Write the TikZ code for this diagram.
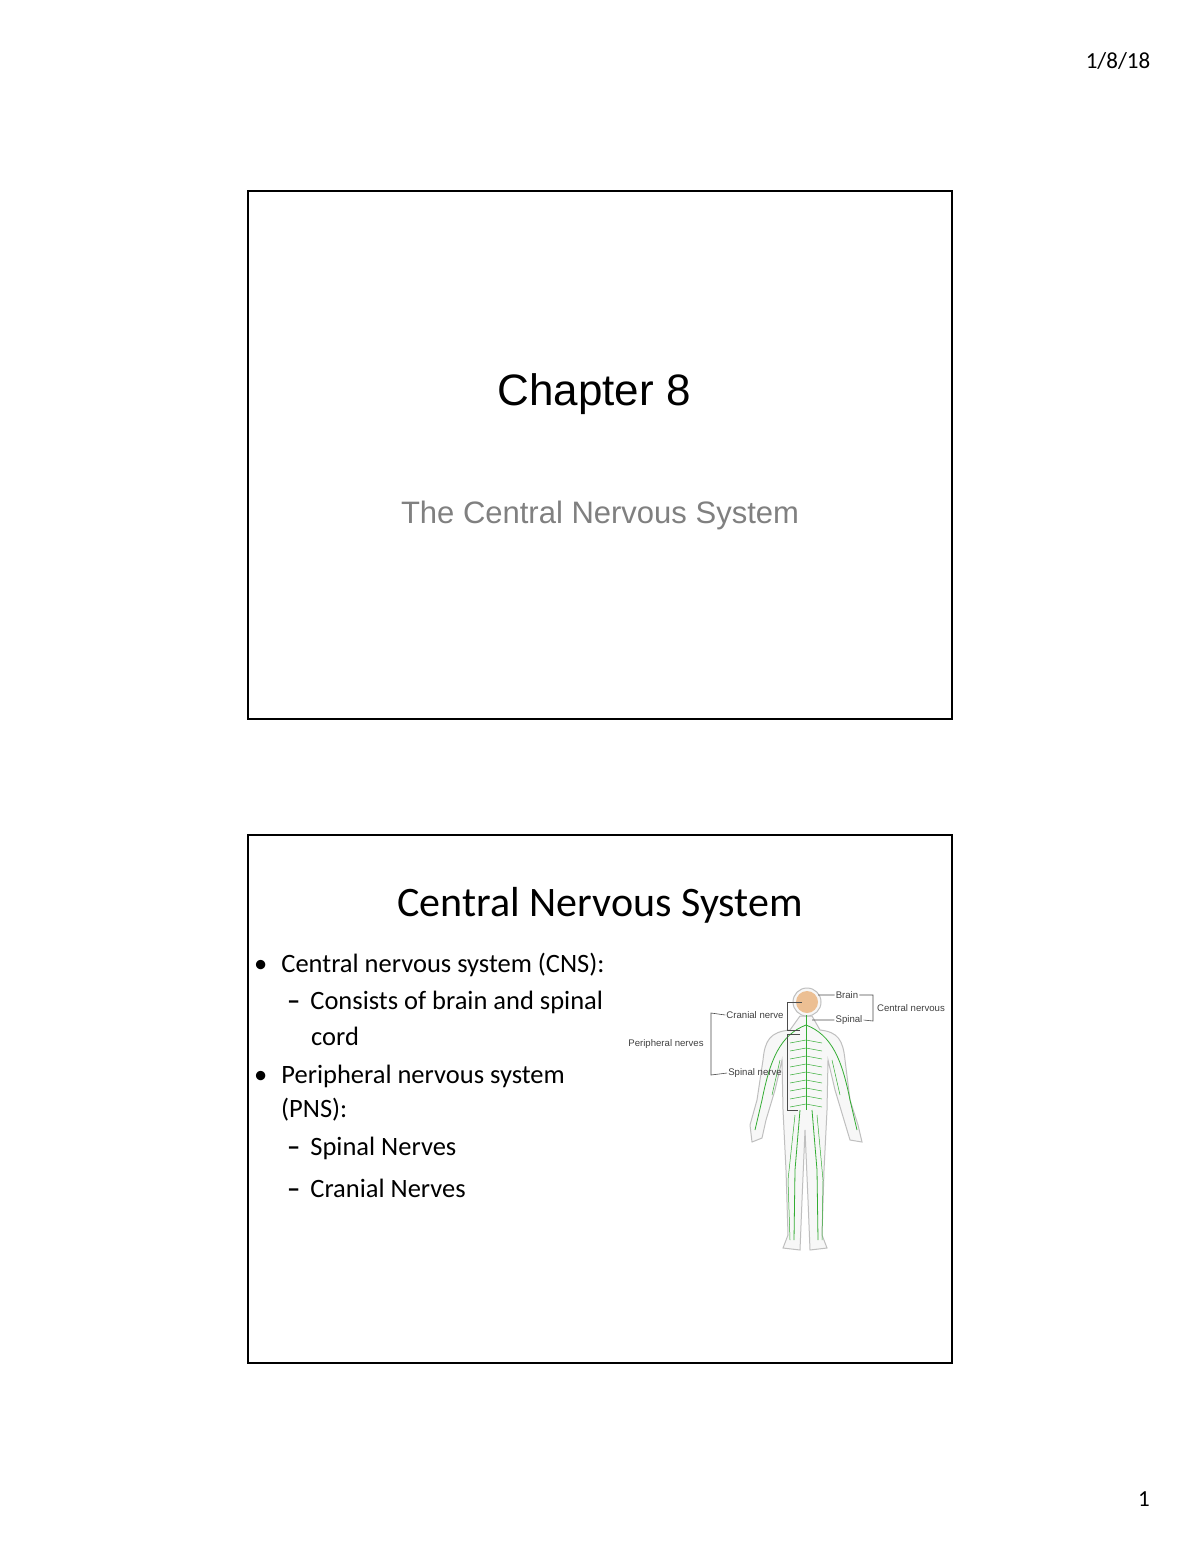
\documentclass[tikz,border=0pt]{standalone}
\usepackage{fontspec}
\setmainfont{Carlito}
\newfontfamily\arial{Liberation Sans}
\begin{document}
\begin{tikzpicture}[x=1pt,y=-1pt,
  slide/.style={draw=black,line width=1.6pt},
  lbl/.style={font=\arial\fontsize{9.6}{11}\selectfont,inner sep=1pt,text=black!75},
  brk/.style={draw=black!70,line width=0.6pt},
  nerve/.style={draw=green!60!black!80,line width=0.8pt},
  skin/.style={draw=black!25,line width=1pt,fill=black!3},
  bul/.style={font=\fontsize{26.5}{30}\selectfont,anchor=west,inner sep=0pt}]
\useasboundingbox (0,0) rectangle (1200,1554);
\fill[white] (0,0) rectangle (1200,1554);
\node[font=\fontsize{23}{26}\selectfont] (date) at (1118,61) {1/8/18};
\node[font=\fontsize{23}{26}\selectfont] (pg) at (1144,1499) {1};
% slide 1
\draw[slide] (248,191) rectangle (952,719);
\node[font=\arial\fontsize{44}{50}\selectfont] (ch) at (594,394) {Chapter 8};
\node[font=\arial\fontsize{31}{36}\selectfont,text=black!50] (sub) at (600,515) {The Central Nervous System};
% slide 2
\draw[slide] (248,835) rectangle (952,1363);
\node[font=\fontsize{42}{48}\selectfont] (t2) at (600,905) {Central Nervous System};
\node[bul] (b1) at (254,965) {\textbullet\hspace{14pt}Central nervous system (CNS):};
\node[bul] (b2) at (287,1002) {\textbf{--}\hspace{10pt}Consists of brain and spinal};
\node[bul] (b3) at (311,1036) {cord};
\node[bul] (b4) at (254,1076) {\textbullet\hspace{14pt}Peripheral nervous system};
\node[bul] (b5) at (281,1110) {(PNS):};
\node[bul] (b6) at (287,1148) {\textbf{--}\hspace{10pt}Spinal Nerves};
\node[bul] (b7) at (287,1188) {\textbf{--}\hspace{10pt}Cranial Nerves};
% body
\draw[skin] (800,1016) -- (790,1030) .. controls (770,1032) and (765,1040) .. (763,1060)
 -- (757,1100) -- (750,1125) -- (752,1142) -- (762,1138) -- (766,1120) -- (775,1090) -- (782,1060)
 -- (783,1110) -- (786,1170) -- (788,1235) -- (783,1248) -- (800,1250) -- (802,1200) -- (805,1130)
 -- (808,1200) -- (810,1250) -- (827,1248) -- (822,1235) -- (824,1170) -- (827,1110) -- (828,1060)
 -- (835,1090) -- (844,1120) -- (850,1140) -- (862,1142) -- (858,1125) -- (850,1100) -- (845,1060)
 .. controls (843,1040) and (838,1032) .. (820,1030) -- (812,1016) -- cycle;
\draw[skin] (807,1002) circle (14);
\fill[orange!40!brown!50] (807,1002) circle (11);
\draw[nerve] (806,1015) -- (806,1110);
\foreach \y in {1040,1048,...,1104} {\draw[nerve,line width=0.5pt] (806,\y) -- (790,\y+3) (806,\y) -- (822,\y+3);}
\draw[nerve] (806,1025) .. controls (780,1035) and (770,1060) .. (762,1100) -- (755,1130);
\draw[nerve] (806,1025) .. controls (832,1035) and (842,1060) .. (850,1100) -- (857,1130);
\draw[nerve] (800,1110) -- (795,1170) -- (794,1240);
\draw[nerve] (812,1110) -- (817,1170) -- (818,1240);
\draw[nerve,line width=0.5pt] (795,1115) -- (788,1180) -- (790,1240) (817,1115) -- (823,1180) -- (822,1240);
\draw[nerve,line width=0.5pt] (780,1060) -- (772,1095) (832,1060) -- (840,1095);
% brackets & labels
\node[lbl] (brain) at (847,995) {Brain};
\node[lbl] (spinal) at (849,1020) {Spinal};
\node[lbl] (cn) at (911,1008) {Central nervous};
\draw[brk] (818,995) -- (brain.west) (brain.east) -- (873,995) -- (873,1021) -- (spinal.east) (spinal.west) -- (812,1020);
\node[lbl] (cran) at (755,1015) {Cranial nerve};
\node[lbl] (spn) at (755,1073) {Spinal nerve};
\node[lbl] (pn) at (666,1044) {Peripheral nerves};
\draw[brk] (802,1002) -- (787,1002) -- (787,1030) -- (800,1030);
\draw[brk] (800,1034) -- (787,1034) -- (787,1110) -- (798,1110);
\draw[brk] (cran.west) -- (711,1013) -- (711,1075) -- (spn.west);
\end{tikzpicture}
\end{document}
